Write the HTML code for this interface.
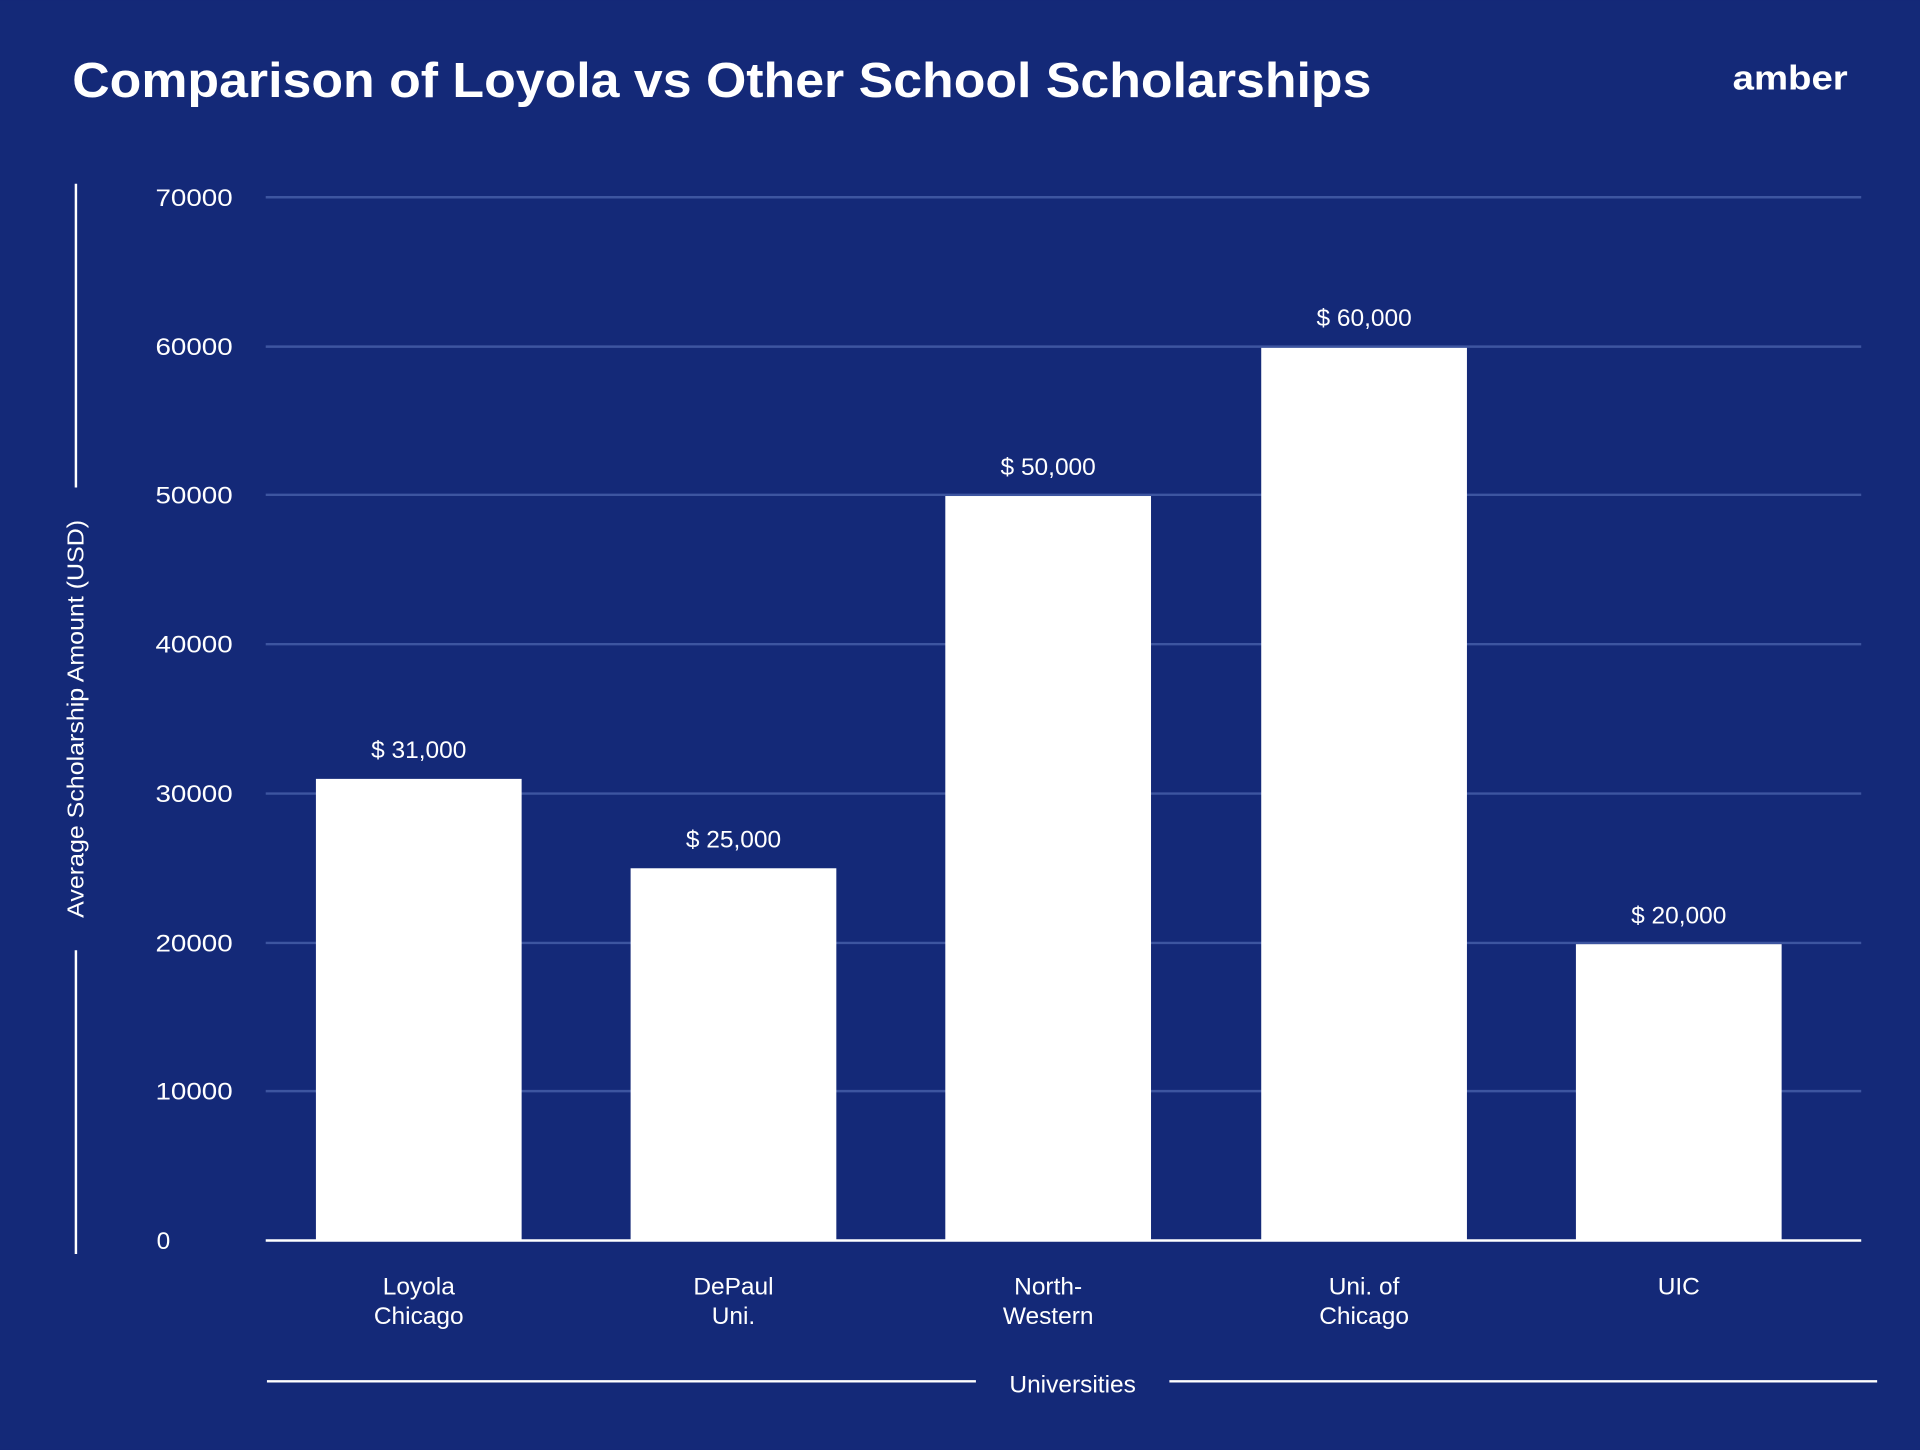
<!DOCTYPE html>
<html><head><style>html,body{margin:0;padding:0;background:#142978;}svg{display:block}</style></head>
<body>
<svg width="1920" height="1450" viewBox="0 0 1568 1184" xmlns="http://www.w3.org/2000/svg" font-family="Liberation Sans, sans-serif">
<rect width="1568" height="1184" fill="#142978"/>
<text x="59" y="79" font-size="40" font-weight="bold" fill="#fff" textLength="1061" lengthAdjust="spacingAndGlyphs">Comparison of Loyola vs Other School Scholarships</text>
<text x="1415" y="73" font-size="28" font-weight="bold" fill="#fff" textLength="94" lengthAdjust="spacingAndGlyphs">amber</text>
<g stroke="#3d55a0" stroke-width="2">
<line x1="217" x2="1520" y1="161" y2="161"/>
<line x1="217" x2="1520" y1="283" y2="283"/>
<line x1="217" x2="1520" y1="404" y2="404"/>
<line x1="217" x2="1520" y1="526" y2="526"/>
<line x1="217" x2="1520" y1="648" y2="648"/>
<line x1="217" x2="1520" y1="770" y2="770"/>
<line x1="217" x2="1520" y1="891" y2="891"/>
</g>
<g fill="#fff" font-size="20" text-anchor="end">
<text x="190" y="168" textLength="63" lengthAdjust="spacingAndGlyphs">70000</text>
<text x="190" y="290" textLength="63" lengthAdjust="spacingAndGlyphs">60000</text>
<text x="190" y="411" textLength="63" lengthAdjust="spacingAndGlyphs">50000</text>
<text x="190" y="533" textLength="63" lengthAdjust="spacingAndGlyphs">40000</text>
<text x="190" y="655" textLength="63" lengthAdjust="spacingAndGlyphs">30000</text>
<text x="190" y="777" textLength="63" lengthAdjust="spacingAndGlyphs">20000</text>
<text x="190" y="898" textLength="63" lengthAdjust="spacingAndGlyphs">10000</text>
<text x="139" y="1020">0</text>
</g>
<g fill="#fff">
<rect x="258" y="636" width="168" height="377"/>
<rect x="515" y="709" width="168" height="304"/>
<rect x="772" y="405" width="168" height="608"/>
<rect x="1030" y="284" width="168" height="729"/>
<rect x="1287" y="771" width="168" height="242"/>
</g>
<line x1="217" x2="1520" y1="1013" y2="1013" stroke="#fff" stroke-width="2"/>
<g fill="#fff" font-size="20" text-anchor="middle">
<text x="342" y="619">$ 31,000</text>
<text x="599" y="692">$ 25,000</text>
<text x="856" y="388">$ 50,000</text>
<text x="1114" y="266">$ 60,000</text>
<text x="1371" y="754">$ 20,000</text>
<text x="342" y="1057">Loyola</text><text x="342" y="1081">Chicago</text>
<text x="599" y="1057">DePaul</text><text x="599" y="1081">Uni.</text>
<text x="856" y="1057">North-</text><text x="856" y="1081">Western</text>
<text x="1114" y="1057">Uni. of</text><text x="1114" y="1081">Chicago</text>
<text x="1371" y="1057">UIC</text>
<text x="876" y="1137">Universities</text>
<text transform="translate(68,587) rotate(-90)" font-size="19" textLength="325" lengthAdjust="spacingAndGlyphs">Average Scholarship Amount (USD)</text>
</g>
<g stroke="#fff" stroke-width="2">
<line x1="218" x2="797" y1="1128" y2="1128"/>
<line x1="955" x2="1533" y1="1128" y2="1128"/>
<line x1="62" x2="62" y1="150" y2="398"/>
<line x1="62" x2="62" y1="776" y2="1024"/>
</g>
</svg>
</body></html>
